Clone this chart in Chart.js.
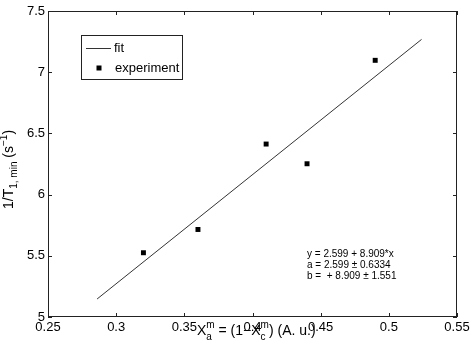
<!DOCTYPE html>
<html><head><meta charset="utf-8">
<script src="https://cdn.jsdelivr.net/npm/chart.js@4/dist/chart.umd.min.js"></script>
<style>html,body{margin:0;padding:0;background:#fff}#wrap{width:474px;height:354px}</style>
</head><body><div id="wrap"><canvas id="c" width="474" height="354"></canvas></div>
<script>
// ---- data ----
const expX = [0.32, 0.36, 0.41, 0.44, 0.49];
const expY = [5.525, 5.715, 6.413, 6.252, 7.097];
const fitX = [0.286, 0.524];
const fitY = [5.147, 7.268];
const xTicks = [0.25, 0.3, 0.35, 0.4, 0.45, 0.5, 0.55];
const xTickLabels = ['0.25', '0.3', '0.35', '0.4', '0.45', '0.5', '0.55'];
const yTicks = [5, 5.5, 6, 6.5, 7, 7.5];
const yTickLabels = ['5', '5.5', '6', '6.5', '7', '7.5'];
const seriesLabels = ['fit', 'experiment'];
const fitText = ['y = 2.599 + 8.909*x', 'a = 2.599 \u00b1 0.6334', 'b =  + 8.909 \u00b1 1.551'];

const FONT = '"Liberation Sans", Arial, Helvetica, sans-serif';
Chart.defaults.font.family = FONT;
Chart.defaults.color = '#000';

function drawRich(ctx, parts) {
  let x = 0;
  for (const p of parts) {
    if (p.stack) {
      let w = 0;
      for (const s of p.stack) {
        ctx.font = s.size + 'px ' + FONT;
        ctx.fillText(s.t, x, s.dy);
        w = Math.max(w, ctx.measureText(s.t).width);
      }
      x += w;
    } else {
      ctx.font = p.size + 'px ' + FONT;
      ctx.fillText(p.t, x, p.dy || 0);
      x += ctx.measureText(p.t).width;
    }
  }
}

const decor = {
  id: 'decor',
  afterDraw(chart) {
    const ctx = chart.ctx;
    const a = chart.chartArea;
    const xs = chart.scales.x, ys = chart.scales.y;
    ctx.save();
    // frame
    ctx.strokeStyle = '#222';
    ctx.lineWidth = 1;
    ctx.strokeRect(a.left + 0.5, a.top + 0.5, a.right - a.left - 1, a.bottom - a.top - 1);
    // inward ticks
    const TL = 4;
    ctx.beginPath();
    xTicks.forEach(v => {
      const px = Math.round(xs.getPixelForValue(v)) + 0.5;
      ctx.moveTo(px, a.bottom); ctx.lineTo(px, a.bottom - TL);
      ctx.moveTo(px, a.top); ctx.lineTo(px, a.top + TL);
    });
    yTicks.forEach(v => {
      const py = Math.round(ys.getPixelForValue(v)) + 0.5;
      ctx.moveTo(a.left, py); ctx.lineTo(a.left + TL, py);
      ctx.moveTo(a.right, py); ctx.lineTo(a.right - TL, py);
    });
    ctx.stroke();

    // legend
    ctx.fillStyle = '#fff';
    ctx.fillRect(81, 35, 101, 44);
    ctx.strokeStyle = '#222';
    ctx.strokeRect(81.5, 35.5, 101, 44);
    ctx.strokeStyle = '#333';
    ctx.beginPath(); ctx.moveTo(86, 48.5); ctx.lineTo(111, 48.5); ctx.stroke();
    ctx.fillStyle = '#000';
    ctx.fillRect(96.5, 65.5, 5, 5);
    ctx.font = '13px ' + FONT;
    ctx.textBaseline = 'middle';
    ctx.textAlign = 'left';
    ctx.fillText(seriesLabels[0], 114, 48);
    ctx.fillText(seriesLabels[1], 115, 68);

    // fit annotation
    ctx.font = '10px ' + FONT;
    fitText.forEach((t, i) => ctx.fillText(t, 307, 254 + i * 11));

    // x axis title
    ctx.textBaseline = 'alphabetic';
    ctx.save();
    ctx.translate(197, 335);
    drawRich(ctx, [
      {t: 'X', size: 14},
      {stack: [{t: 'm', size: 10, dy: -7}, {t: 'a', size: 10, dy: 5}]},
      {t: ' = (1\u2212X', size: 14},
      {stack: [{t: 'm', size: 10, dy: -7}, {t: 'c', size: 10, dy: 5}]},
      {t: ') (A. u.)', size: 14}
    ]);
    ctx.restore();

    // y axis title
    ctx.save();
    ctx.translate(13, 209);
    ctx.rotate(-Math.PI / 2);
    drawRich(ctx, [
      {t: '1/T', size: 14},
      {t: '1, min', size: 10, dy: 4},
      {t: ' (s', size: 14},
      {t: '\u22121', size: 10, dy: -6},
      {t: ')', size: 14}
    ]);
    ctx.restore();
    ctx.restore();
  }
};

new Chart(document.getElementById('c'), {
  type: 'scatter',
  data: {
    datasets: [
      {
        label: seriesLabels[0],
        data: fitX.map((x, i) => ({x: x, y: fitY[i]})),
        showLine: true,
        borderColor: '#333',
        borderWidth: 1,
        pointRadius: 0,
        fill: false
      },
      {
        label: seriesLabels[1],
        data: expX.map((x, i) => ({x: x, y: expY[i]})),
        pointStyle: 'rect',
        pointRadius: 3.5,
        backgroundColor: '#000',
        borderColor: '#000',
        borderWidth: 0
      }
    ]
  },
  options: {
    responsive: false,
    animation: false,
    devicePixelRatio: 1,
    layout: {padding: {top: 11, right: 17, left: 0, bottom: 0}},
    plugins: {legend: {display: false}, tooltip: {enabled: false}},
    scales: {
      x: {
        type: 'linear', min: 0.25, max: 0.55,
        grid: {display: false, drawTicks: false},
        border: {display: false},
        afterBuildTicks: s => { s.ticks = xTicks.map(v => ({value: v})); },
        afterFit: s => { s.height = 37; },
        ticks: {
          autoSkip: false, maxRotation: 0, padding: 3,
          font: {size: 13}, color: '#000',
          callback: (v) => xTickLabels[xTicks.findIndex(t => Math.abs(t - v) < 1e-9)]
        }
      },
      y: {
        type: 'linear', min: 5, max: 7.5,
        grid: {display: false, drawTicks: false},
        border: {display: false},
        afterBuildTicks: s => { s.ticks = yTicks.map(v => ({value: v})); },
        afterFit: s => { s.width = 48; },
        ticks: {
          autoSkip: false, padding: 3,
          font: {size: 13}, color: '#000',
          callback: (v) => yTickLabels[yTicks.findIndex(t => Math.abs(t - v) < 1e-9)]
        }
      }
    }
  },
  plugins: [decor]
});
</script>
</body></html>
